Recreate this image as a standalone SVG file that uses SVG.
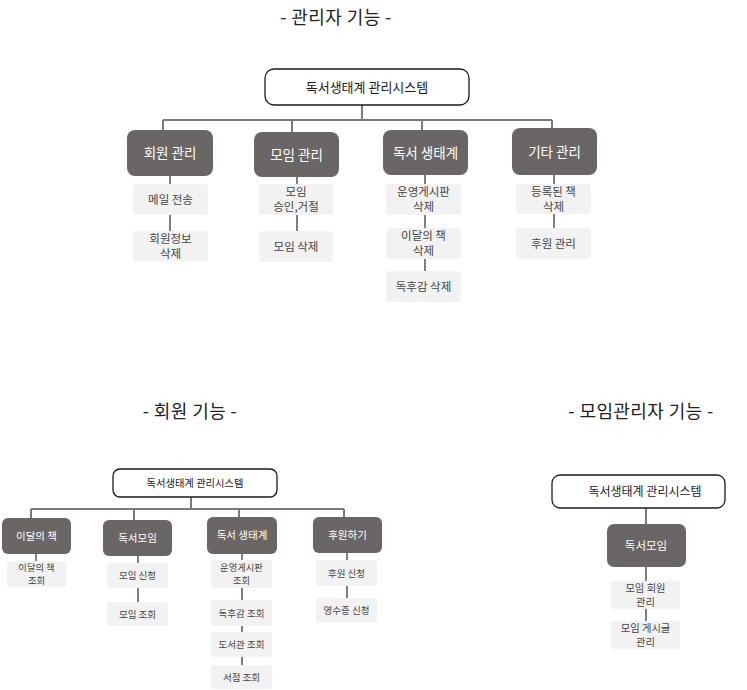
<svg xmlns="http://www.w3.org/2000/svg" width="747" height="690" viewBox="0 0 747 690">
<style>
text{font-family:"Noto Sans CJK KR","Noto Sans",sans-serif;text-anchor:middle}
.title{font-size:18px;fill:#222;letter-spacing:0.4px}
.root{fill:#fff;stroke:#1a1a1a;stroke-width:1.3}
.rt{fill:#1a1a1a}
.l1{fill:#6b6666}
.l1t{fill:#fff}
.ch{fill:#f2f2f2}
.cht{fill:#444}
.bar{stroke:#7a7a7a;stroke-width:2;fill:none}
.cl{stroke:#555;stroke-width:1.5;fill:none}
</style>
<rect width="747" height="690" fill="#fff"/>
<text class="title" x="336" y="24">- 관리자 기능 -</text>
<text class="title" x="190" y="418">- 회원 기능 -</text>
<text class="title" x="641" y="418">- 모임관리자 기능 -</text>

<g id="connectors">
<path class="bar" d="M362 105V120M163 120H552M163 120V130M292 120V132M422 120V130M552 120V128"/>
<path class="cl" d="M170 176V184M170 215V231M297 177V184M297 215V231M425 175V184M425 215V228M425 259V271M554 175V184M554 214V228"/>
<path class="bar" d="M191 497V509M31 509H344M31 509V518M134 509V520M239 509V517M344 509V517"/>
<path class="cl" d="M36 554V561M138 556V563M138 588V602M242 554V560M242 588V600M242 626V632M242 657V665M347 553V560M347 586V598"/>
<path class="bar" d="M646 508V524"/>
<path class="cl" d="M646 567V581M646 609V621"/>
</g>

<g id="admin-root"><rect class="root" x="265" y="69" width="204" height="36" rx="9"/><text class="rt" x="367" y="91.5" font-size="13">독서생태계 관리시스템</text></g>
<g id="admin-member"><rect class="l1" x="127" y="130" width="86" height="46" rx="8"/><text class="l1t" x="170" y="158" font-size="13.5">회원 관리</text></g>
<g id="admin-group"><rect class="l1" x="254" y="132" width="85" height="45" rx="8"/><text class="l1t" x="296.5" y="159.5" font-size="13.5">모임 관리</text></g>
<g id="admin-eco"><rect class="l1" x="383" y="130" width="85" height="45" rx="8"/><text class="l1t" x="425.5" y="157.5" font-size="13.5">독서 생태계</text></g>
<g id="admin-etc"><rect class="l1" x="512" y="128" width="85" height="47" rx="8"/><text class="l1t" x="554.5" y="156.5" font-size="13.5">기타 관리</text></g>

<g id="a-mail"><rect class="ch" x="133" y="184" width="75" height="31" rx="4"/><text class="cht" x="170.5" y="203.5" font-size="11.5">메일 전송</text></g>
<g id="a-memdel"><rect class="ch" x="133" y="231" width="75" height="30" rx="4"/><text class="cht" x="170.5" y="242.5" font-size="11.5">회원정보<tspan x="170.5" dy="15">삭제</tspan></text></g>
<g id="a-approve"><rect class="ch" x="259" y="184" width="74" height="31" rx="4"/><text class="cht" x="296" y="196" font-size="11.5">모임<tspan x="296" dy="15">승인,거절</tspan></text></g>
<g id="a-groupdel"><rect class="ch" x="259" y="231" width="74" height="31" rx="4"/><text class="cht" x="296" y="250.5" font-size="11.5">모임 삭제</text></g>
<g id="a-boarddel"><rect class="ch" x="386" y="184" width="75" height="31" rx="4"/><text class="cht" x="423.5" y="196" font-size="11.5">운영게시판<tspan x="423.5" dy="15">삭제</tspan></text></g>
<g id="a-monthdel"><rect class="ch" x="386" y="228" width="75" height="31" rx="4"/><text class="cht" x="423.5" y="240" font-size="11.5">이달의 책<tspan x="423.5" dy="15">삭제</tspan></text></g>
<g id="a-reviewdel"><rect class="ch" x="386" y="271" width="75" height="31" rx="4"/><text class="cht" x="423.5" y="290.5" font-size="11.5">독후감 삭제</text></g>
<g id="a-bookdel"><rect class="ch" x="516" y="184" width="75" height="30" rx="4"/><text class="cht" x="553.5" y="195.5" font-size="11.5">등록된 책<tspan x="553.5" dy="15">삭제</tspan></text></g>
<g id="a-sponsor"><rect class="ch" x="516" y="228" width="75" height="31" rx="4"/><text class="cht" x="553.5" y="247.5" font-size="11.5">후원 관리</text></g>

<g id="member-root"><rect class="root" x="113" y="469" width="164" height="28" rx="7"/><text class="rt" x="195" y="486.5" font-size="10.3">독서생태계 관리시스템</text></g>
<g id="m-month"><rect class="l1" x="2" y="518" width="69" height="36" rx="6"/><text class="l1t" x="36.5" y="539.5" font-size="10.5">이달의 책</text></g>
<g id="m-group"><rect class="l1" x="103" y="520" width="69" height="36" rx="6"/><text class="l1t" x="137.5" y="541.5" font-size="10.5">독서모임</text></g>
<g id="m-eco"><rect class="l1" x="207" y="517" width="70" height="37" rx="6"/><text class="l1t" x="242" y="539" font-size="10.5">독서 생태계</text></g>
<g id="m-sponsor"><rect class="l1" x="313" y="517" width="69" height="36" rx="6"/><text class="l1t" x="347.5" y="538.5" font-size="10.5">후원하기</text></g>
<g id="m-monthview"><rect class="ch" x="7" y="561" width="59" height="26" rx="3"/><text class="cht" x="36.5" y="571" font-size="9.3">이달의 책<tspan x="36.5" dy="12.5">조회</tspan></text></g>
<g id="m-apply"><rect class="ch" x="107" y="563" width="61" height="25" rx="3"/><text class="cht" x="137.5" y="579" font-size="9.5">모임 신청</text></g>
<g id="m-groupview"><rect class="ch" x="107" y="602" width="61" height="24" rx="3"/><text class="cht" x="137.5" y="617.5" font-size="9.5">모임 조회</text></g>
<g id="m-boardview"><rect class="ch" x="211" y="560" width="61" height="28" rx="3"/><text class="cht" x="241.5" y="571" font-size="9.3">운영게시판<tspan x="241.5" dy="12.5">조회</tspan></text></g>
<g id="m-reviewview"><rect class="ch" x="211" y="600" width="61" height="26" rx="3"/><text class="cht" x="241.5" y="616.5" font-size="9.5">독후감 조회</text></g>
<g id="m-libview"><rect class="ch" x="211" y="632" width="61" height="25" rx="3"/><text class="cht" x="241.5" y="648" font-size="9.5">도서관 조회</text></g>
<g id="m-storeview"><rect class="ch" x="211" y="665" width="61" height="24" rx="3"/><text class="cht" x="241.5" y="680.5" font-size="9.5">서점 조회</text></g>
<g id="m-sponsorapply"><rect class="ch" x="316" y="560" width="61" height="26" rx="3"/><text class="cht" x="346.5" y="576.5" font-size="9.5">후원 신청</text></g>
<g id="m-receipt"><rect class="ch" x="316" y="598" width="61" height="25" rx="3"/><text class="cht" x="346.5" y="614" font-size="9.5">영수증 신청</text></g>

<g id="leader-root"><rect class="root" x="552" y="475" width="173" height="33" rx="8"/><text class="rt" x="645" y="495.5" font-size="12">독서생태계 관리시스템</text></g>
<g id="l-group"><rect class="l1" x="607" y="524" width="79" height="43" rx="7"/><text class="l1t" x="646" y="549.5" font-size="11.5">독서모임</text></g>
<g id="l-members"><rect class="ch" x="611" y="581" width="69" height="28" rx="3"/><text class="cht" x="645.5" y="592" font-size="10.3">모임 회원<tspan x="645.5" dy="13.5">관리</tspan></text></g>
<g id="l-posts"><rect class="ch" x="611" y="621" width="69" height="28" rx="3"/><text class="cht" x="645.5" y="632" font-size="10.3">모임 게시글<tspan x="645.5" dy="13.5">관리</tspan></text></g>
</svg>
